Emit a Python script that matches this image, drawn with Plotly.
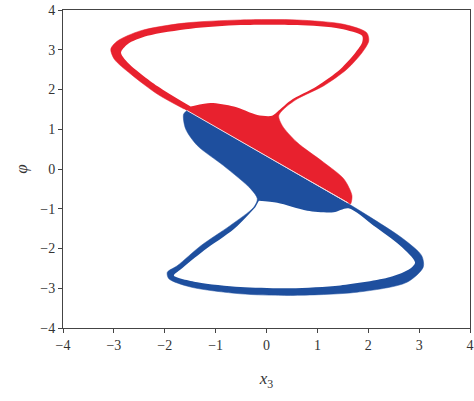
import plotly.graph_objects as go

# red attractor (upper): outer edge and hole
red_x = [-1.62, -2.14, -2.67, -2.99, -3.06, -2.93, -2.47, -1.62, -0.51, 0.60, 1.52, 1.97, 2.01, 1.88,
         1.58, 1.12, 0.60, 0.34, 0.24, 0.31, 0.60, 1.12, 1.52, 1.68, 1.65, 1.61]
red_y = [1.51, 1.88, 2.39, 2.76, 3.02, 3.22, 3.48, 3.67, 3.75, 3.75, 3.64, 3.43, 3.22, 2.93,
         2.51, 2.09, 1.76, 1.51, 1.34, 1.09, 0.67, 0.17, -0.25, -0.67, -0.88, -0.85]
red_hole_x = [-1.49, -2.14, -2.73, -2.86, -2.73, -2.34, -1.49, -0.51, 0.60, 1.45, 1.88, 1.88, 1.75,
              1.45, 0.99, 0.47, 0.24, 0.11, -0.18, -0.64, -1.10, -1.42]
red_hole_y = [1.57, 2.08, 2.68, 2.93, 3.14, 3.35, 3.53, 3.62, 3.62, 3.53, 3.35, 3.18, 2.93,
              2.51, 2.08, 1.72, 1.47, 1.34, 1.36, 1.57, 1.66, 1.59]

# blue attractor (lower)
blue_x = [1.58, 2.10, 2.69, 3.05, 3.08, 2.76, 1.78, 0.47, -0.51, -1.49, -1.92, -1.95, -1.75, -1.29,
          -0.71, -0.25, -0.18, -0.31, -0.84, -1.36, -1.59, -1.63, -1.56]
blue_y = [-0.85, -1.26, -1.76, -2.18, -2.47, -2.85, -3.10, -3.18, -3.14, -2.97, -2.76, -2.60, -2.43, -1.93,
          -1.42, -0.96, -0.75, -0.50, 0.08, 0.59, 1.01, 1.38, 1.47]
blue_hole_x = [-0.15, 0.21, 0.80, 1.32, 1.61, 2.10, 2.63, 2.92, 2.82, 2.43, 1.45, 0.47, -0.51, -1.36,
               -1.82, -1.69, -1.23, -0.64, -0.22]
blue_hole_y = [-0.80, -0.85, -1.05, -1.09, -0.99, -1.42, -1.93, -2.35, -2.51, -2.72, -2.93, -3.00, -2.97, -2.85,
               -2.68, -2.53, -2.05, -1.51, -0.96]

seam_x = [-1.56, 1.60]
seam_y = [1.47, -0.85]

RED = "#e8212e"
BLUE = "#1e4f9e"

fig = go.Figure()
fig.add_trace(go.Scatter(x=red_x, y=red_y, fill="toself", fillcolor=RED, mode="lines",
                         line=dict(color=RED, width=0.5, shape="spline", smoothing=0.8)))
fig.add_trace(go.Scatter(x=red_hole_x, y=red_hole_y, fill="toself", fillcolor="white", mode="lines",
                         line=dict(color="white", width=0, shape="spline", smoothing=0.8)))
fig.add_trace(go.Scatter(x=blue_x, y=blue_y, fill="toself", fillcolor=BLUE, mode="lines",
                         line=dict(color=BLUE, width=0.5, shape="spline", smoothing=0.8)))
fig.add_trace(go.Scatter(x=blue_hole_x, y=blue_hole_y, fill="toself", fillcolor="white", mode="lines",
                         line=dict(color="white", width=0, shape="spline", smoothing=0.8)))
fig.add_trace(go.Scatter(x=seam_x, y=seam_y, mode="lines", line=dict(color="#f4d8dc", width=1)))

axis = dict(range=[-4, 4], dtick=1, showgrid=False, zeroline=False, showline=True, mirror=True,
            linecolor="#444", linewidth=1, ticks="outside", ticklen=4, tickcolor="#444",
            automargin=False, ticklabeloverflow="allow")
fig.update_layout(
    width=474, height=401, showlegend=False,
    plot_bgcolor="white", paper_bgcolor="white",
    margin=dict(l=63, r=4, t=10, b=73),
    font=dict(family="Liberation Serif", size=14, color="#333"),
    xaxis=dict(axis, title=dict(text="<i>x</i><sub>3</sub>", standoff=20)),
    yaxis=dict(axis, title=dict(text="<i>φ</i>", standoff=8)),
)
# drop the default page margin so the figure sits at the window corner
fig.write_html("out.html", config={"displayModeBar": False},
               post_script="document.body.style.margin='0';document.body.style.overflow='hidden';")
